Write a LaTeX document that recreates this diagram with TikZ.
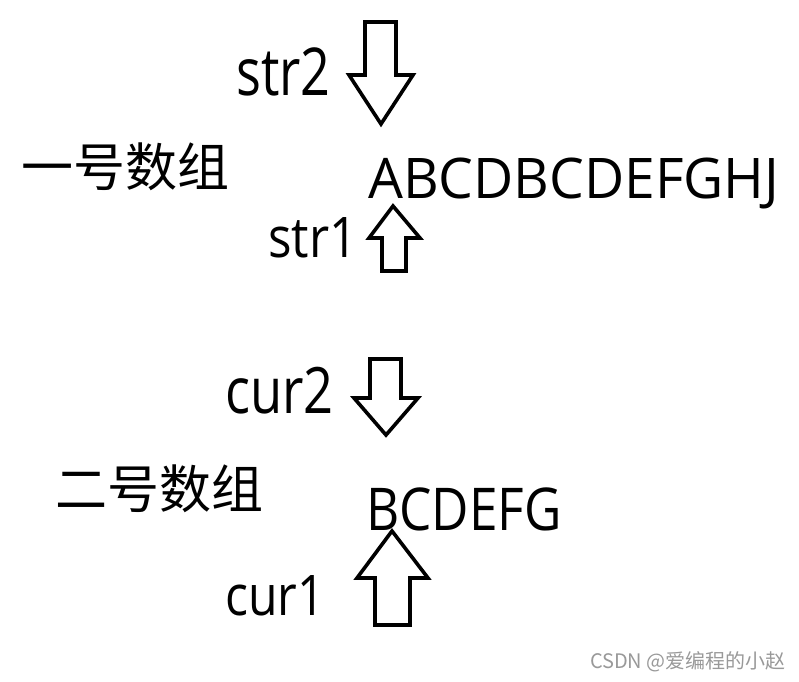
\documentclass[tikz,border=0pt]{standalone}
\usepackage{fontspec}
\setmainfont{Open Sans}
\newfontfamily\cjk{Noto Sans CJK SC}
\usetikzlibrary{positioning}
\tikzset{
  fatarrow/.style = {draw=black, line width=3.6pt, line join=miter, fill=white},
  ptr/.style = {anchor=base west, inner sep=0pt, transform shape},
  arr/.style = {anchor=west, inner sep=0pt, font=\cjk\fontsize{52}{60}\selectfont}
}

\begin{document}
\begin{tikzpicture}[x=1pt, y=-1pt]

  \useasboundingbox (0,0) rectangle (799,681);

  %% Array one

  % Label
  \node[arr] (one) at (21,167) {一号数组};

  % Characters
  \node[ptr, xscale=0.985, font=\fontsize{56}{60}\selectfont] (strone) at (368,198) {ABCDBCDEFGHJ};

  % Pointer str2
  \draw[fatarrow] (365,22) -- (396,22) -- (396,75) -- (413,75) -- (381,124) -- (349,75) -- (365,75) -- cycle;
  \node[ptr, xscale=0.79, font=\fontsize{66}{70}\selectfont] (strtwo) at (236,95) {str2};

  % Pointer str1
  \draw[fatarrow] (382,271) -- (406,271) -- (406,238) -- (420,238) -- (393,206) -- (369,238) -- (382,238) -- cycle;
  \node[ptr, xscale=0.88, font=\fontsize{56}{60}\selectfont] (strp) at (268,257) {str1};

  %% Array two

  % Label
  \node[arr] (two) at (55,489) {二号数组};

  % Characters
  \node[ptr, xscale=0.87, font=\fontsize{59}{64}\selectfont] (curone) at (366,530) {BCDEFG};

  % Pointer cur2
  \draw[fatarrow] (370,359) -- (401,359) -- (401,398) -- (418,398) -- (386,435) -- (354,398) -- (370,398) -- cycle;
  \node[ptr, xscale=0.82, font=\fontsize{64}{70}\selectfont] (curtwo) at (225,413) {cur2};

  % Pointer cur1
  \draw[fatarrow] (375,625) -- (410,625) -- (410,578) -- (428,578) -- (392,531) -- (357,578) -- (375,578) -- cycle;
  \node[ptr, xscale=0.86, font=\fontsize{56}{60}\selectfont] (curp) at (225,615) {cur1};

  % Watermark
  \node[anchor=east, inner sep=0pt, text=black!40, font=\cjk\fontsize{20}{24}\selectfont] (mark) at (786,662) {CSDN @爱编程的小赵};

\end{tikzpicture}
\end{document}
